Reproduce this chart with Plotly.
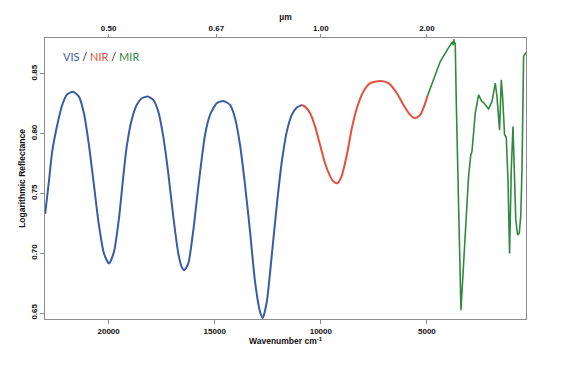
import plotly.graph_objects as go

# ---- data ----
vis_wn = [22991, 22972, 22816, 22660, 22425, 22189, 21953, 21670, 21401, 21165,
          20929, 20693, 20458, 20222, 19986, 19750, 19514, 19311, 19151, 18915,
          18679, 18443, 18160, 17896, 17660, 17425, 17189, 16953, 16717, 16557,
          16434, 16245, 16009, 15774, 15458, 15222, 14906, 14594, 14278, 14042,
          13807, 13571, 13335, 13099, 12863, 12736, 12547, 12311, 12075, 11840,
          11604, 11368, 11132, 10896]
vis_val = [0.733, 0.736, 0.760, 0.785, 0.807, 0.824, 0.833, 0.835, 0.831, 0.817,
           0.7905, 0.757, 0.7235, 0.6998, 0.6914, 0.7012, 0.7291, 0.764, 0.789, 0.8115,
           0.824, 0.8296, 0.831, 0.8282, 0.8184, 0.7975, 0.7668, 0.7305, 0.6998, 0.6886,
           0.6858, 0.6915, 0.7193, 0.7556, 0.7989, 0.8157, 0.8255, 0.8274, 0.824, 0.8129,
           0.7905, 0.757, 0.7179, 0.676, 0.6509, 0.6459, 0.6593, 0.6984, 0.7403, 0.7765,
           0.8017, 0.8157, 0.8218, 0.824]

nir_wn = [10896, 10741, 10505, 10269, 10033, 9797, 9561, 9406, 9217, 9009,
          8774, 8538, 8302, 7991, 7675, 7203, 6811, 6415, 6104, 5788,
          5552, 5316, 5080, 4972]
nir_val = [0.824, 0.8226, 0.8171, 0.8059, 0.7905, 0.775, 0.7645, 0.760, 0.7585, 0.765,
           0.7822, 0.8045, 0.8213, 0.8352, 0.8422, 0.8441, 0.8422, 0.8338, 0.824, 0.8157,
           0.8129, 0.8157, 0.8255, 0.8316]

mir_wn = [4972, 4844, 4373, 4042, 3807, 3760, 3736, 3700, 3665, 3618, 3524,
          3396, 3288, 3146, 3038, 2934, 2877, 2722, 2566, 2406, 2330,
          2094, 1934, 1778, 1698, 1575, 1495, 1434, 1340, 1260, 1179,
          1104, 1024, 943, 868, 811, 726, 646, 575, 519, 443, 330]
mir_val = [0.8316, 0.838, 0.8603, 0.870, 0.8768, 0.874, 0.879, 0.875, 0.876, 0.828, 0.744,
           0.6523, 0.686, 0.736, 0.764, 0.782, 0.785, 0.817, 0.8324, 0.8268, 0.826,
           0.8207, 0.8268, 0.8422, 0.831, 0.803, 0.845, 0.831, 0.799, 0.797, 0.761,
           0.6997, 0.770, 0.8059, 0.761, 0.728, 0.7152, 0.717, 0.732, 0.770, 0.8645, 0.868]

bottom_ticks = [20000, 15000, 10000, 5000]
bottom_labels = ["20000", "15000", "10000", "5000"]
top_tick_pos = [20000, 14925, 10000, 5000]
top_tick_labels = ["0.50", "0.67", "1.00", "2.00"]
y_ticks = [0.65, 0.70, 0.75, 0.80, 0.85]

BLUE = "#3a5ba6"
RED = "#e4503c"
GREEN = "#2f8a3f"
AXC = "#8c8c8c"
FONT = "Liberation Sans"

fig = go.Figure()
fig.add_trace(go.Scatter(x=vis_wn, y=vis_val, mode="lines",
                         line=dict(color=BLUE, width=2, shape="spline", smoothing=0.6)))
fig.add_trace(go.Scatter(x=nir_wn, y=nir_val, mode="lines",
                         line=dict(color=RED, width=2, shape="spline", smoothing=0.6)))
fig.add_trace(go.Scatter(x=mir_wn, y=mir_val, mode="lines",
                         line=dict(color=GREEN, width=1.6)))
# invisible trace to anchor the top micrometre axis
fig.add_trace(go.Scatter(x=mir_wn, y=mir_val, mode="lines", xaxis="x2",
                         line=dict(color="rgba(0,0,0,0)", width=0), hoverinfo="skip"))

tickfont = dict(family=FONT, size=8, color="#111", weight="bold")
titlefont = dict(family=FONT, size=8.5, color="#111", weight="bold")
# the page body has an 8px margin, so the figure is 8px smaller and margins shifted
fig.update_layout(
    width=554, height=364,
    margin=dict(l=37, r=36, t=30, b=53),
    paper_bgcolor="white", plot_bgcolor="white",
    showlegend=False,
    xaxis=dict(range=[23000, 330], tickvals=bottom_ticks, ticktext=bottom_labels,
               ticks="outside", ticklen=4, automargin=False,
               tickcolor=AXC, showline=True, linecolor=AXC, linewidth=1.2, mirror=True,
               showgrid=False, zeroline=False, tickfont=tickfont,
               title=dict(text="Wavenumber cm<sup>-1</sup>", standoff=2, font=titlefont)),
    xaxis2=dict(range=[23000, 330], overlaying="x", side="top", tickvals=top_tick_pos,
                ticktext=top_tick_labels, ticks="outside", ticklen=3, tickcolor=AXC,
                automargin=False, showline=False, showgrid=False, zeroline=False,
                tickfont=tickfont,
                title=dict(text="µm", standoff=1, font=titlefont)),
    yaxis=dict(range=[0.645, 0.880], tickvals=y_ticks, tickformat=".2f", ticks="outside",
               ticklen=4, tickcolor=AXC, showline=True, linecolor=AXC, linewidth=1.2,
               automargin=False, mirror=True, showgrid=False, zeroline=False,
               tickangle=-90, tickfont=tickfont,
               title=dict(text="Logarithmic Reflectance", standoff=2, font=titlefont)),
)

fig.add_annotation(
    xref="paper", yref="paper", x=0.033, y=0.933, xanchor="left", yanchor="middle",
    showarrow=False,
    text=(f"<span style='color:{BLUE}'>VIS</span> / "
          f"<span style='color:{RED}'>NIR</span> / "
          f"<span style='color:{GREEN}'>MIR</span>"),
    font=dict(family="Lato", size=11, color="#111"),
)

fig.write_html("out.html")
